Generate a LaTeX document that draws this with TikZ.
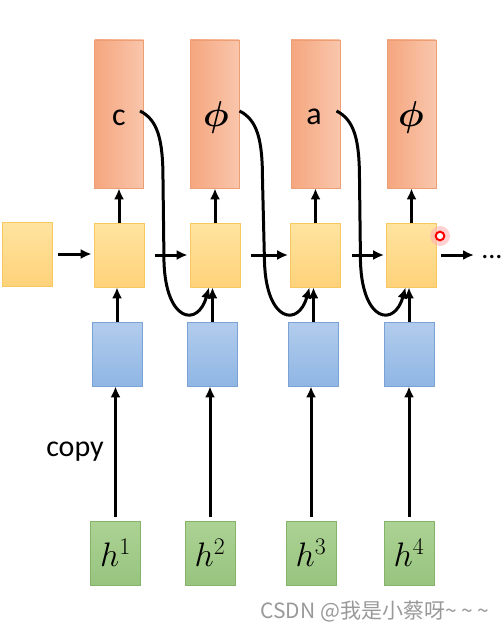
\RequirePackage{fix-cm}
\documentclass[tikz,border=0pt]{standalone}
\usepackage{amsmath}
\usepackage[no-math]{fontspec}
\setmainfont{Carlito}
\newfontfamily\cjk{Noto Sans CJK SC}
\usetikzlibrary{calc, arrows.meta}

\definecolor{orL}{RGB}{245,166,126}
\definecolor{orR}{RGB}{249,198,172}
\definecolor{orD}{RGB}{238,158,116}
\definecolor{yeT}{RGB}{255,228,160}
\definecolor{yeB}{RGB}{255,210,122}
\definecolor{yeD}{RGB}{247,200,95}
\definecolor{blT}{RGB}{178,204,237}
\definecolor{blB}{RGB}{143,182,228}
\definecolor{blD}{RGB}{122,162,212}
\definecolor{grT}{RGB}{172,210,148}
\definecolor{grB}{RGB}{152,196,127}
\definecolor{grD}{RGB}{132,180,106}

\begin{document}
\begin{tikzpicture}[x=1pt,y=-1pt,->,>={Latex[length=11pt,width=10pt]},line width=3pt,
every node/.style={shape=rectangle,inner sep=0pt,line width=0.7pt},
outbox/.style={draw=orD,left color=orL,right color=orR,minimum width=49pt,minimum height=148pt},
statebox/.style={draw=yeD,top color=yeT,bottom color=yeB,minimum width=50pt,minimum height=64pt},
encbox/.style={draw=blD,top color=blT,bottom color=blB,minimum width=50pt,minimum height=64pt},
hbox/.style={draw=grD,top color=grT,bottom color=grB,minimum width=50pt,minimum height=64pt,font=\fontsize{34}{38}\selectfont},
tok/.style={font=\fontsize{32}{36}\selectfont},
sym/.style={font=\fontsize{36}{40}\selectfont}
]
\useasboundingbox (0,0) rectangle (503,631);

% output boxes
\node [outbox] (o1) at (119,114) {};
\node [outbox] (o2) at (214.5,114) {};
\node [outbox] (o3) at (315.5,114) {};
\node [outbox] (o4) at (411.5,114) {};
\node [tok] (t1) at (119,118) {c};
\node [sym] (t2) at (216,118) {$\boldsymbol{\phi}$};
\node [tok] (t3) at (314,117) {a};
\node [sym] (t4) at (411,118) {$\boldsymbol{\phi}$};

% decoder states
\node [statebox] (y0) at (27.5,254) {};
\node [statebox] (y1) at (119,255) {};
\node [statebox] (y2) at (215,255) {};
\node [statebox] (y3) at (315.5,255) {};
\node [statebox] (y4) at (411.5,255) {};
\node [anchor=west,font=\fontsize{28}{32}\selectfont] (dots) at (481,257) {...};

% copies of h
\node [encbox] (b1) at (117,354) {};
\node [encbox] (b2) at (212.5,354) {};
\node [encbox] (b3) at (313.5,354) {};
\node [encbox] (b4) at (409,354) {};

\node [hbox] (g1) at (115.5,553) {$h^1$};
\node [hbox] (g2) at (210,553) {$h^2$};
\node [hbox] (g3) at (311,553) {$h^3$};
\node [hbox] (g4) at (409,553) {$h^4$};

\node [font=\fontsize{30}{34}\selectfont] (cp) at (75,452) {copy};

\foreach \i in {1,...,4}{
  \draw [shorten <=4pt] (g\i.north) -- (g\i.north |- b\i.south);
  \draw (b\i.north) -- (b\i.north |- y\i.south);
  \draw (y\i.north) -- (y\i.north |- o\i.south);
}

\draw [shorten <=5pt,shorten >=2pt] (y0.east) -- (y0.east -| y1.west);
\foreach \i/\j in {1/2,2/3,3/4}
  \draw [shorten <=11pt,shorten >=2pt] (y\i.east) -- (y\i.east -| y\j.west);
\draw [shorten <=4pt,shorten >=7pt] (y4.east) -- (y4.east -| dots.west);

% output fed back as next input
\foreach \i/\j/\d in {1/2/0,2/3/4,3/4/0}
  \draw ($(o\i.center)+(21+\d,-3)$) .. controls ($(o\i.center)+(39+\d,6)$) and ($(o\i.center)+(44+\d,26)$) .. ($(o\i.center)+(44+\d,66)$)
     -- ($(y\j.south)+(-51,-25)$) .. controls ($(y\j.south)+(-49,35)$) and ($(y\j.south)+(-17,40)$) .. ($(y\j.south)+(-6,0)$);

% pointer mark
\fill [red!30,opacity=0.6] (440,236) circle (10);
\draw [red,line width=2pt,fill=white] (440,236) circle (4.3);

\node [text=black!40,font=\cjk\fontsize{21}{24}\selectfont] (wm) at (375,611) {CSDN @我是小蔡呀\textasciitilde\ \textasciitilde\ \textasciitilde};
\end{tikzpicture}
\end{document}
